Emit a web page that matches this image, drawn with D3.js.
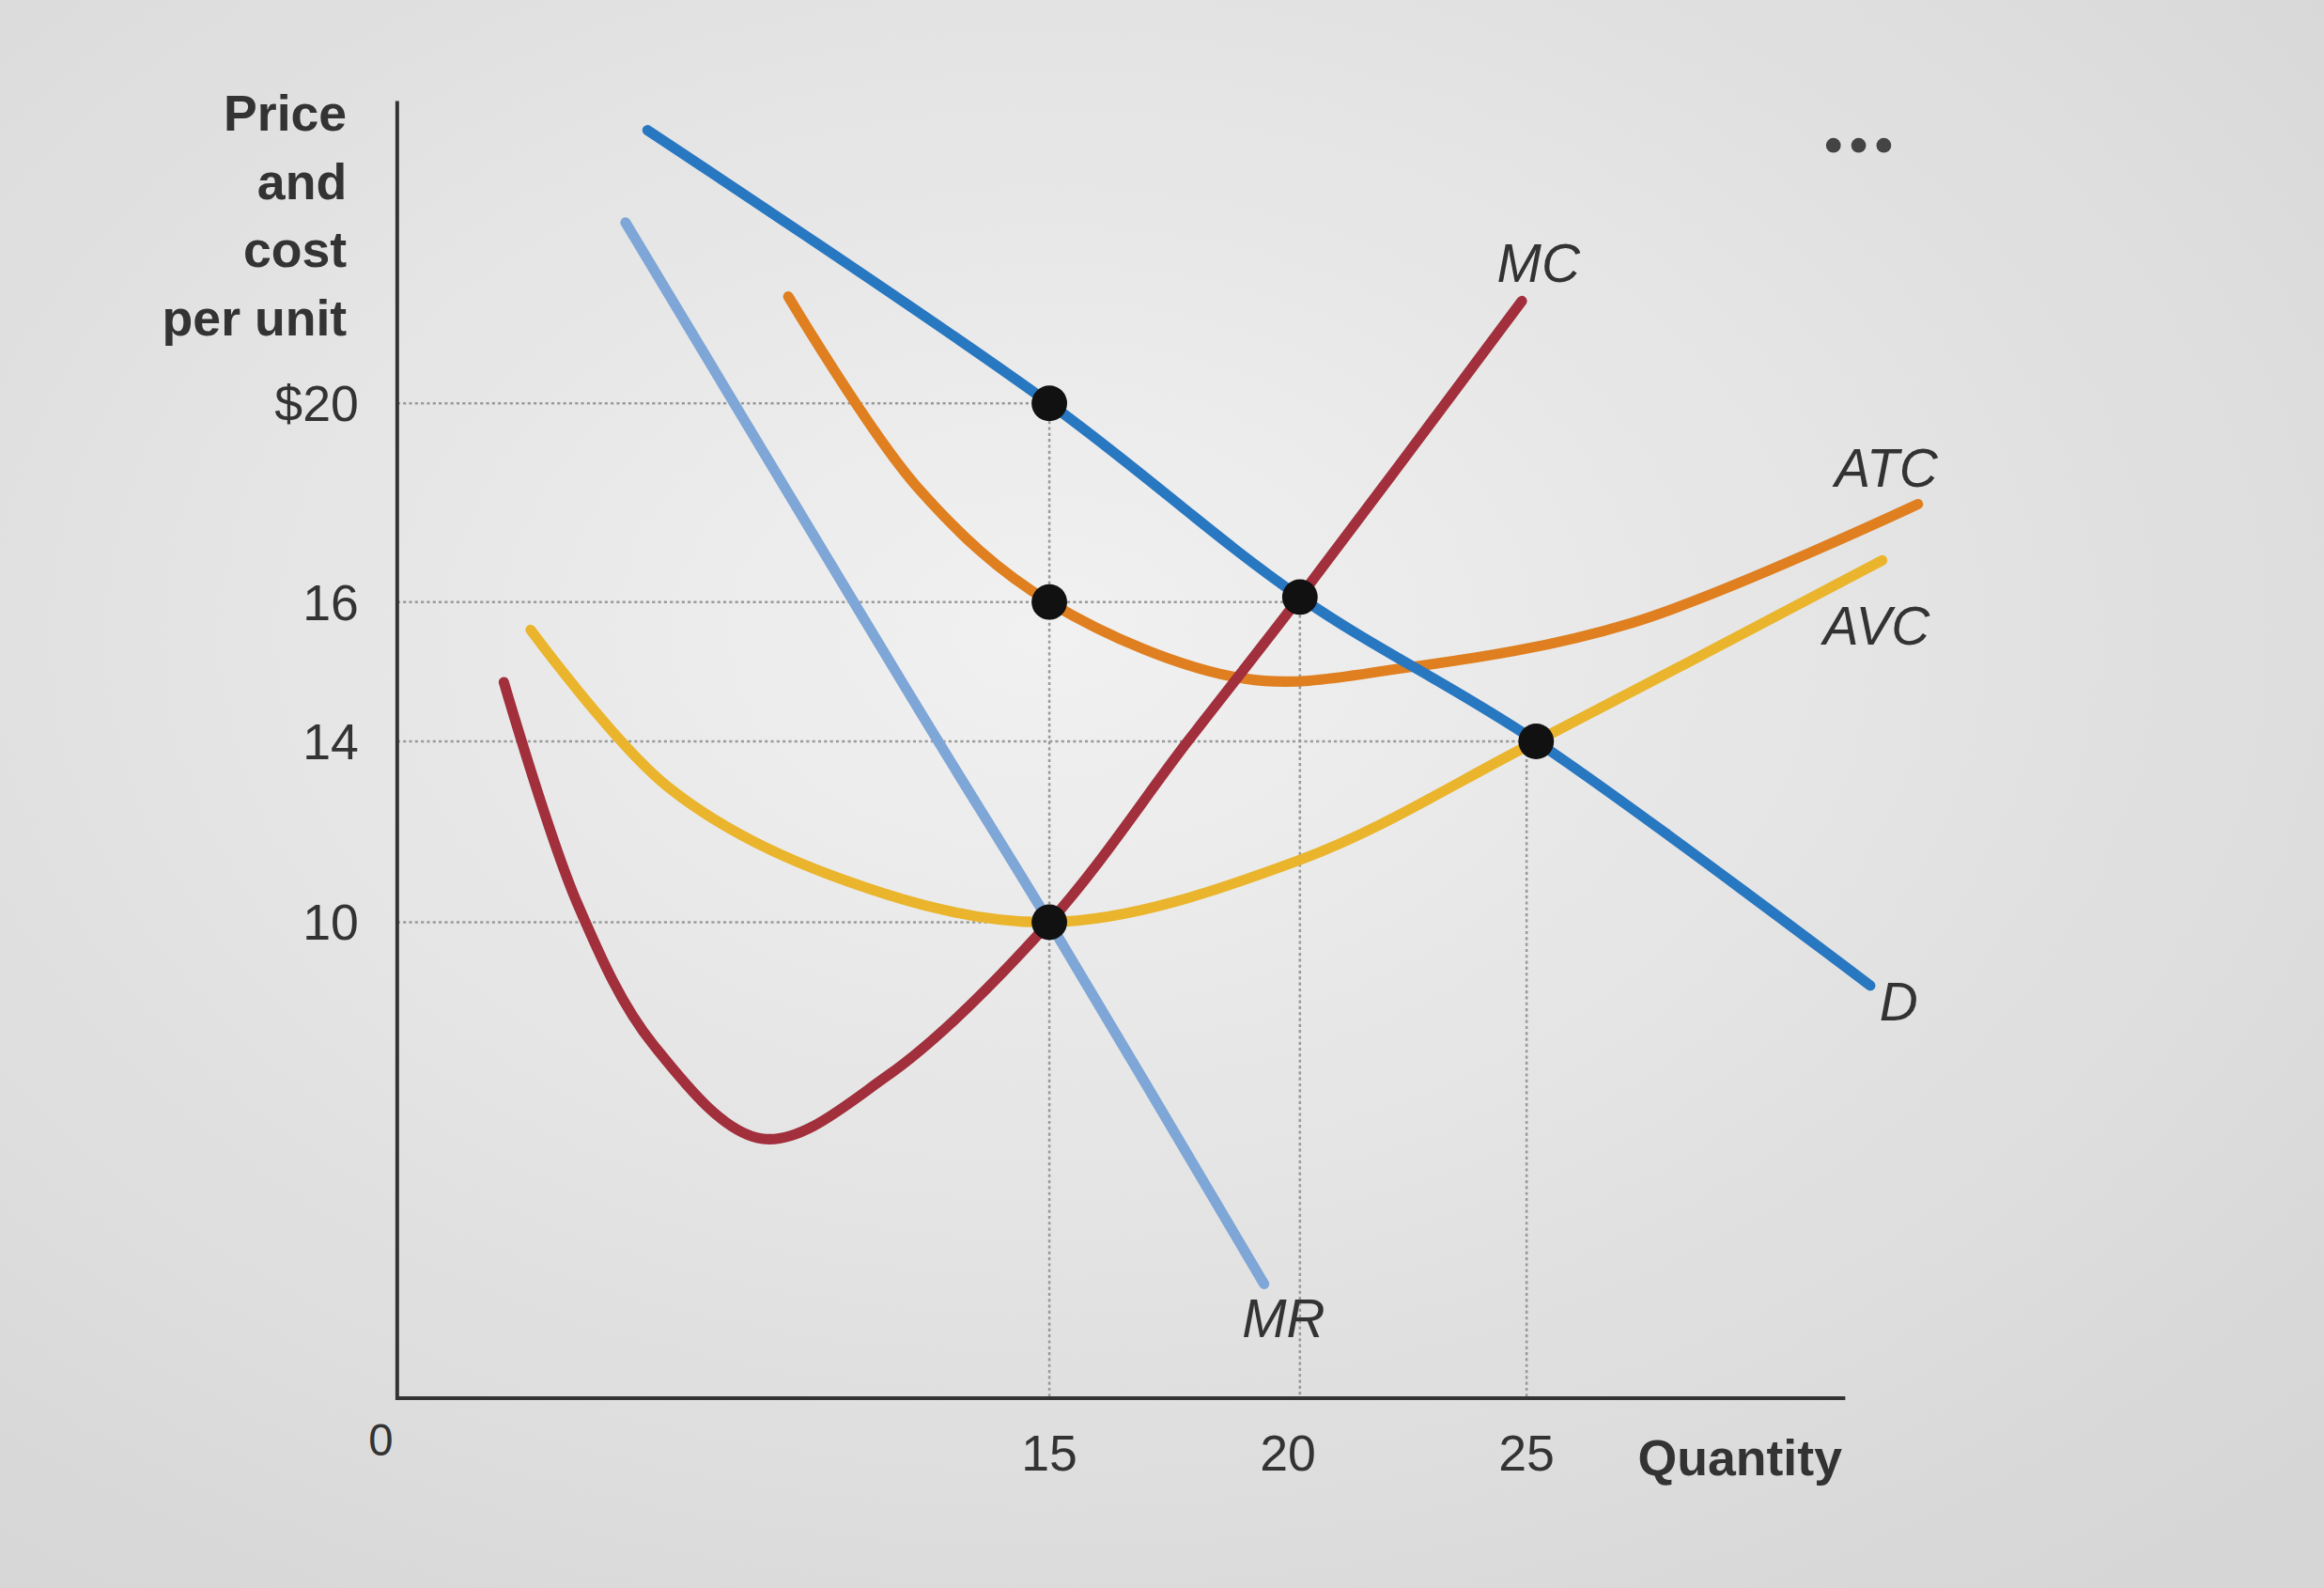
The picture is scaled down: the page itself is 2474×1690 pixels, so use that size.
<!DOCTYPE html>
<html><head><meta charset="utf-8">
<script src="https://cdn.jsdelivr.net/npm/d3@7"></script>
<style>body{margin:0;background:#e2e2e2}svg{display:block}</style>
</head><body>
<svg width="2474" height="1690" viewBox="0 0 1568 1071"></svg>
<script>
// curves (quantity, price)
var demandQ = [6.58, 15, 20.25, 25.2, 32.2], demandP = [25.5, 20, 16.1, 14, 8.6];
var mrQ = [6.12, 10.9, 12.67, 15, 19.5], mrP = [23.64, 16, 14, 10, 2.0];
var mcQ = [3.57, 5.12, 6.71, 9.0, 11.6, 15, 17.9, 20.25, 24.9], mcP = [14.85, 10.39, 7.28, 5.21, 6.6, 10, 14, 16.1, 22.06];
var atcQ = [9.53, 12.27, 15, 19.1, 22.5, 27.2, 33.2], atcP = [22.15, 18.27, 16.0, 14.9, 15.06, 15.7, 17.97];
var avcQ = [4.13, 7.0, 10.4, 15, 20.25, 25.2, 32.45], avcP = [15.6, 13.0, 11.05, 10, 11.38, 14, 16.84];
var dotQ = [15, 15, 15, 20.25, 25.2], dotP = [20, 16, 10, 16.1, 14];
var yTicks = [20, 16, 14, 10], yTickLabels = ["$20", "16", "14", "10"];
var xTicks = [15, 20, 25];

var svg = d3.select("svg");
var bg = svg.append("defs").append("radialGradient").attr("id", "bg").attr("cx", "45%").attr("cy", "40%").attr("r", "75%");
bg.append("stop").attr("offset", "0%").attr("stop-color", "#f1f1f1");
bg.append("stop").attr("offset", "100%").attr("stop-color", "#d6d6d6");
svg.append("rect").attr("width", 1568).attr("height", 1071).attr("fill", "url(#bg)");

var x = d3.scaleLinear().domain([15, 25]).range([708, 1030]);
var y = d3.scaleLinear().domain([10, 14, 16, 20]).range([622, 500, 406, 272]);
var x0 = 268, yBase = 943;

var g = svg.append("g").attr("font-family", "Liberation Sans, Arial, sans-serif");

// guide lines
function dotted(x1, y1, x2, y2) {
  g.append("line").attr("x1", x1).attr("y1", y1).attr("x2", x2).attr("y2", y2)
    .attr("stroke", "#9a9a9a").attr("stroke-width", 1.6).attr("stroke-dasharray", "2,2");
}
dotted(x0, y(20), x(15), y(20));
dotted(x0, y(16), x(20.25), y(16));
dotted(x0, y(14), x(25.2), y(14));
dotted(x0, y(10), x(15), y(10));
dotted(x(15), y(20), x(15), yBase);
dotted(x(20.25), y(16.1), x(20.25), yBase);
dotted(x(25), y(14), x(25), yBase);

// axes
g.append("path").attr("d", "M" + x0 + ",68 L" + x0 + "," + yBase + " L1245," + yBase)
  .attr("fill", "none").attr("stroke", "#333").attr("stroke-width", 2.5);

var line = d3.line().x(function (d) { return x(d[0]); }).y(function (d) { return y(d[1]); }).curve(d3.curveCatmullRom);
function curve(qs, ps, color) {
  g.append("path").datum(d3.zip(qs, ps)).attr("d", line)
    .attr("fill", "none").attr("stroke", color).attr("stroke-width", 7).attr("stroke-linecap", "round");
}
curve(mrQ, mrP, "#7ea6d6");
curve(avcQ, avcP, "#eab52c");
curve(atcQ, atcP, "#df7f20");
curve(mcQ, mcP, "#a12f3c");
curve(demandQ, demandP, "#2877c1");

g.selectAll(".dot").data(d3.zip(dotQ, dotP)).enter().append("circle")
  .attr("cx", function (d) { return x(d[0]); }).attr("cy", function (d) { return y(d[1]); })
  .attr("r", 12).attr("fill", "#111");

// tick labels
g.selectAll(".yt").data(yTicks).enter().append("text")
  .attr("x", 242).attr("y", function (d) { return y(d) + 12; }).attr("text-anchor", "end")
  .attr("font-size", 34).attr("fill", "#333").text(function (d, i) { return yTickLabels[i]; });
g.selectAll(".xt").data(xTicks).enter().append("text")
  .attr("x", function (d) { return x(d); }).attr("y", 992).attr("text-anchor", "middle")
  .attr("font-size", 34).attr("fill", "#333").text(function (d) { return d; });
g.append("text").attr("x", 257).attr("y", 982).attr("text-anchor", "middle").attr("font-size", 30).attr("fill", "#333").text("0");

var yTitle = ["Price", "and", "cost", "per unit"];
g.selectAll(".yl").data(yTitle).enter().append("text")
  .attr("x", 234).attr("y", function (d, i) { return 88 + i * 46; }).attr("text-anchor", "end")
  .attr("font-size", 34).attr("font-weight", "bold").attr("fill", "#333").text(function (d) { return d; });
g.append("text").attr("x", 1105).attr("y", 995).attr("font-size", 34).attr("font-weight", "bold").attr("fill", "#333").text("Quantity");

// curve labels
function label(t, px, py) {
  g.append("text").attr("x", px).attr("y", py).attr("font-size", 36).attr("font-style", "italic").attr("fill", "#333").text(t);
}
label("MC", 1010, 190);
label("ATC", 1238, 328);
label("AVC", 1230, 435);
label("D", 1268, 688);
label("MR", 838, 902);
g.selectAll(".ell").data([0, 1, 2]).enter().append("circle")
  .attr("cx", function (d) { return 1237 + d * 17; }).attr("cy", 98).attr("r", 5).attr("fill", "#444");
</script>
</body></html>
